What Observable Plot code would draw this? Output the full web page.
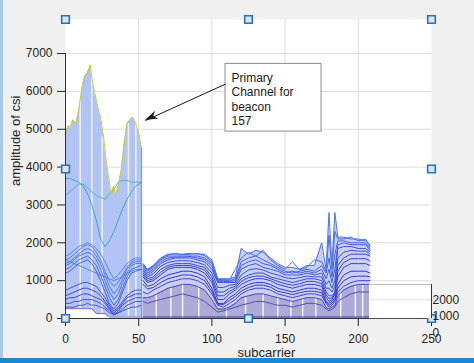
<!DOCTYPE html>
<html><head><meta charset="utf-8">
<script src="https://cdn.jsdelivr.net/npm/d3@7"></script>
<script src="https://cdn.jsdelivr.net/npm/@observablehq/plot@0.6"></script>
<style>
html,body{margin:0;padding:0;background:#f0f0f0;}
#wrap{position:relative;width:474px;height:363px;overflow:hidden;background:#f0f0f0;}
#wrap svg{position:absolute;left:0;top:0;}
#leftstrip{position:absolute;left:0;top:0;width:3px;height:363px;background:#a9c9e8;}
#bottombar{position:absolute;left:0;top:358px;width:474px;height:5px;background:#1f86cf;}
</style></head>
<body><div id="wrap"><div id="leftstrip"></div><div id="bottombar"></div></div>
<script>
// ---------- tick labels ----------
const subcarrierTicks = [0, 50, 100, 150, 200, 250];
const amplitudeTicks = [0, 1000, 2000, 3000, 4000, 5000, 6000, 7000];
const insetTicks = [0, 1000, 2000];

// ---------- primary channel (subcarriers 0-52) ----------
const primaryX = [0,2,3,5,7,9,11,13,15,16,17,18,20,22,24,26,28,30,31,33,34,36,38,40,42,44,46,48,50,52];
const primaryY = [4900,5100,5000,5250,5150,5500,6050,6400,6500,6600,6700,6350,5950,5600,5300,4800,4100,3600,3300,3500,3250,3500,3900,4600,5150,5250,5320,5150,4900,4500];

const seg1X = [0,3,6,9,12,15,18,21,24,27,30,33,36,39,42,45,48,52];
const seg1Floor = [260,260,260,260,260,260,260,130,130,130,40,40,40,40,40,40,40,40];
const teal1 = [3700,3700,3650,3600,3500,3300,3000,2600,2100,1900,2050,2300,2600,2900,3150,3350,3500,3600];
const teal2 = [3250,3350,3450,3550,3550,3450,3350,3250,3200,3150,3300,3400,3600,3650,3650,3600,3600,3600];
const blueA = [1650,1700,1800,1900,1950,2000,1950,1850,1700,1500,1250,1050,1150,1300,1450,1550,1600,1600];
const blueB = [1550,1600,1700,1800,1900,1950,1900,1750,1550,1250,1000,850,950,1150,1350,1500,1550,1550];
const blueC = [1450,1500,1600,1700,1800,1850,1800,1650,1450,1150,850,650,800,1050,1300,1450,1500,1500];
const blueD = [1400,1450,1550,1650,1700,1750,1700,1550,1300,1000,700,500,650,950,1200,1400,1450,1450];
const blueE = [1300,1350,1450,1550,1600,1650,1550,1400,1150,850,550,350,500,800,1100,1300,1350,1400];
const blueF = [1200,1250,1350,1450,1500,1550,1450,1250,1000,700,400,250,400,700,1000,1200,1250,1300];
const blueG = [1550,1500,1450,1400,1350,1300,1250,1200,1150,1100,1050,1000,1050,1100,1200,1250,1300,1300];
const lowA = [750,800,850,900,950,950,900,850,700,550,350,200,300,450,600,700,750,750];
const lowB = [600,650,700,750,800,800,750,700,600,450,300,150,250,400,550,600,650,650];
const lowC = [500,550,550,600,650,650,600,550,500,400,250,100,200,350,450,500,550,550];
const lowD = [400,400,450,450,500,500,500,450,400,300,200,100,150,250,350,400,450,450];
const lowE = [300,300,300,350,350,400,350,350,300,250,150,100,150,200,250,300,300,350];
const seg1StripeX = [10, 18, 25, 43, 48];
const seg1StripeTop = [6100, 6350, 4800, 5150, 5150];
const seg1StripeBase = [260, 260, 130, 40, 40];

// ---------- other channels (subcarriers 53-208) ----------
const seg2X = [53,56,60,65,70,75,80,85,90,95,100,104,108,112,116,120,125,130,135,140,145,150,155,160,165,170,175,178,180,182,184,186,190,195,200,205,208];
const upper1 = [1450,1300,1400,1600,1700,1700,1700,1720,1700,1700,1550,1050,1050,1050,1100,1850,1700,1800,1750,1600,1450,1350,1350,1300,1400,1400,2000,1300,2800,1400,2800,2150,2150,2100,2100,2050,1950];
const upper1b = [1420,1280,1380,1580,1680,1720,1680,1700,1720,1660,1500,1030,1030,1020,1300,1600,1750,1650,1800,1550,1400,1300,1500,1280,1350,1550,1500,1250,2200,1300,2300,2100,2100,2150,2050,2100,1900];
const upper2 = [1400,1250,1350,1550,1650,1650,1650,1650,1650,1600,1450,1000,1000,1000,1050,1500,1600,1650,1550,1450,1350,1250,1200,1250,1300,1250,1400,1200,1600,1100,1700,2050,2050,2000,2000,2000,1850];
const upper2b = [1350,1200,1300,1500,1600,1620,1620,1640,1600,1560,1380,980,980,980,1000,1400,1500,1550,1450,1400,1300,1200,1250,1200,1250,1200,1300,1050,1300,950,1300,1950,2000,1950,1950,1950,1800];
const upper3 = [1300,1150,1250,1450,1550,1600,1600,1600,1550,1500,1300,950,950,950,950,1300,1400,1450,1350,1300,1250,1150,1150,1150,1200,1150,1200,900,1000,800,1000,1850,1900,1900,1850,1850,1750];
const mid0 = [1250,1100,1180,1380,1480,1520,1530,1520,1480,1420,1200,820,820,880,900,1150,1280,1320,1280,1200,1150,1080,1050,1080,1120,1100,1100,800,800,700,850,1600,1750,1800,1780,1780,1700];
const mid1 = [1200,1050,1100,1300,1400,1450,1450,1450,1400,1350,1100,700,700,800,850,1050,1150,1200,1200,1100,1050,1000,950,1000,1050,1050,1000,700,600,600,700,1400,1600,1700,1700,1700,1650];
const mid1b = [1150,1000,1050,1220,1350,1400,1400,1400,1350,1280,1020,600,600,720,800,980,1080,1120,1120,1050,980,920,880,920,980,980,920,620,520,550,680,1250,1480,1580,1580,1580,1520];
const mid2 = [1100,950,1000,1150,1300,1350,1350,1350,1300,1200,950,500,500,650,750,900,1000,1050,1050,1000,900,850,800,850,900,900,850,550,450,500,650,1100,1350,1450,1450,1450,1400];
const mid3 = [1000,850,900,1050,1150,1200,1250,1250,1200,1100,800,400,400,550,650,800,900,950,950,900,800,750,700,750,800,800,750,450,400,450,550,900,1150,1250,1250,1250,1200];
const mid3b = [900,780,820,950,1050,1100,1150,1150,1100,1000,720,380,370,480,580,720,820,880,880,830,720,680,630,680,720,720,680,420,350,400,500,800,1000,1100,1120,1120,1100];
const low1 = [700,650,750,850,950,1000,1050,1050,1000,900,650,350,300,400,500,650,750,800,800,750,650,600,550,600,650,650,600,400,300,350,450,700,850,950,1000,1000,1000];
const low2 = [550,550,600,700,800,850,900,900,850,750,500,250,250,300,400,550,600,650,650,600,550,500,450,500,550,550,500,300,250,300,350,600,750,850,900,900,900];
const low3 = [450,400,450,500,550,600,650,600,550,450,300,170,200,250,300,350,400,450,450,400,350,350,300,350,400,400,350,250,200,250,300,450,550,650,700,700,700];
const floor2X = [53, 208];
const floor2Y = [40, 40];
const seg2StripeX = [62,72,80,91,110,123,135,145,154,162,171,188,198,203];
const seg2StripeTop = [650,820,900,850,280,580,650,550,460,520,550,680,880,900];

// ---------- annotation ----------
const noteText = "Primary\nChannel for\nbeacon\n157";
const noteBox = {x1: 109.3, x2: 174.9, y1: 4939, y2: 6727};
const notePos = {x: 113.4, y: 6520};
const noteArrow = {x1: 109.3, y1: 6194, x2: 54.6, y2: 5230};

// ---------- build tables ----------
const rows = (xs, ys) => xs.map((x, i) => ({x, y: ys[i]}));
const xDomain = [0, 250], yDomain = [0, 7900];
const font = "'Liberation Sans', Arial, Helvetica, sans-serif";
const plain = d => String(d);

const seg1Lines = [
  [lowE, "#4646c4"], [lowD, "#3f3fc8"], [lowC, "#3a3acc"], [lowB, "#3838d0"], [lowA, "#3a42d4"],
  [blueG, "#4a80ec"], [blueF, "#3f55e0"], [blueE, "#4260e4"], [blueD, "#4668e8"], [blueC, "#4a70ea"],
  [blueB, "#4d78ec"], [blueA, "#5080ee"], [seg1Floor, "#5a52c8"],
  [teal2, "#45b0c4"], [teal1, "#2fa0cc"]
];
const seg2Lines = [
  [low3, "#5050b8"], [low2, "#4a48c0"], [low1, "#4545c8"], [mid3b, "#3a38c8"], [mid3, "#3737cc"],
  [mid2, "#3840d4"], [mid1b, "#3944d8"], [mid1, "#3a49dc"], [mid0, "#3b4fe0"], [upper3, "#3d55e3"],
  [upper2b, "#405ce6"], [upper2, "#4462ea"], [upper1b, "#486aed"], [upper1, "#4d74f0"]
];

const handles = [];
const mid = (yDomain[0] + yDomain[1]) / 2;
for (const x of [0, 125, 250]) for (const y of [yDomain[0], mid, yDomain[1]]) {
  if (!(x === 125 && y === mid)) handles.push({x, y});
}

const chart = Plot.plot({
  width: 474, height: 363,
  marginLeft: 65, marginRight: 43, marginTop: 19, marginBottom: 45,
  x: {domain: xDomain},
  y: {domain: yDomain},
  style: {background: "transparent", fontFamily: font, fontSize: "12px", color: "#262626", overflow: "visible"},
  marks: [
    Plot.frame({fill: "white", stroke: "none"}),
    Plot.gridX({ticks: subcarrierTicks.slice(1, 5), stroke: "#dcdcdc", strokeOpacity: 1}),
    Plot.gridY({ticks: amplitudeTicks.slice(1), stroke: "#dcdcdc", strokeOpacity: 1}),
    // surface fills
    Plot.areaY(rows(primaryX, primaryY), {x: "x", y: "y", fill: "#b2c4f6"}),
    Plot.areaY(rows(seg1X, seg1Floor), {x: "x", y: "y", fill: "white"}),
    Plot.areaY(rows(seg2X, upper1), {x: "x", y: "y", fill: "#c9cff5"}),
    Plot.areaY(rows(seg2X, low2), {x: "x", y: "y", fill: "#aeaad8"}),
    Plot.ruleX(seg1StripeX.map((x, i) => ({x, y1: seg1StripeBase[i], y2: seg1StripeTop[i]})),
      {x: "x", y1: "y1", y2: "y2", stroke: "white", strokeWidth: 1.6, strokeOpacity: 0.75}),
    Plot.ruleX(seg2StripeX.map((x, i) => ({x, y2: seg2StripeTop[i]})),
      {x: "x", y1: 0, y2: "y2", stroke: "white", strokeWidth: 1.5, strokeOpacity: 0.85}),
    // lines
    Plot.line(rows(floor2X, floor2Y), {x: "x", y: "y", stroke: "#3c3c9c", strokeWidth: 1}),
    ...seg2Lines.map(([ys, c]) => Plot.line(rows(seg2X, ys), {x: "x", y: "y", stroke: c, strokeWidth: 1})),
    ...seg1Lines.map(([ys, c]) => Plot.line(rows(seg1X, ys), {x: "x", y: "y", stroke: c, strokeWidth: 0.9})),
    Plot.line(rows(primaryX, primaryY), {x: "x", y: "y", stroke: "#c6cc3c", strokeWidth: 1}),
    Plot.ruleX([primaryX[primaryX.length - 1]], {y1: 0, y2: primaryY[primaryY.length - 1], stroke: "#3fb0b8", strokeWidth: 1}),
    // axes
    Plot.ruleX([0], {y1: 0, y2: 7000, stroke: "#333"}),
    Plot.ruleY([0], {x1: 0, x2: 250, stroke: "#333"}),
    Plot.axisY({ticks: amplitudeTicks, tickFormat: plain, tickSize: 8, tickPadding: 5, label: null, fontSize: 12}),
    Plot.axisX({ticks: subcarrierTicks, tickFormat: plain, tickSize: 8, tickPadding: 8, label: null, fontSize: 12}),
    Plot.text(["amplitude of csi"], {frameAnchor: "left", y: 3500, dx: -50, rotate: -90, fontSize: 13, fill: "#262626"}),
    Plot.text(["subcarrier"], {frameAnchor: "bottom", x: 137.3, dy: 38, fontSize: 13, fill: "#262626"}),
    // annotation
    Plot.rect([noteBox], {x1: "x1", x2: "x2", y1: "y1", y2: "y2", fill: "white", stroke: "#8c8c8c"}),
    Plot.text([noteText], {x: notePos.x, y: notePos.y, text: d => d, textAnchor: "start", lineAnchor: "top", lineHeight: 1.2, fontSize: 12, fill: "#1a1a1a"}),
    Plot.link([noteArrow], {x1: "x1", y1: "y1", x2: "x2", y2: "y2", stroke: "#1a1a1a", strokeWidth: 1}),
    // selection handles
    Plot.dot(handles, {x: "x", y: "y", symbol: "square", r: 4.3, fill: "#d5e6f5", stroke: "#2c72b3", strokeWidth: 1.6})
  ]
});

// filled arrow head positioned with the chart's own scales
{
  const sx = chart.scale("x"), sy = chart.scale("y");
  const tx = sx.apply(noteArrow.x2), ty = sy.apply(noteArrow.y2);
  const bx = sx.apply(noteArrow.x1), by = sy.apply(noteArrow.y1);
  const len = Math.hypot(bx - tx, by - ty);
  const ux = (bx - tx) / len, uy = (by - ty) / len, nx = -uy, ny = ux;
  const L = 13, W = 4.2, N = 9;
  const pts = [[tx, ty], [tx + ux * L + nx * W, ty + uy * L + ny * W], [tx + ux * N, ty + uy * N], [tx + ux * L - nx * W, ty + uy * L - ny * W]];
  d3.select(chart).append("polygon").attr("points", pts.map(p => p.join(",")).join(" ")).attr("fill", "#1a1a1a");
}

document.getElementById("wrap").appendChild(chart);

// small overlapping axes at lower right
const insetBox = {bottom: 880, top: 2900};
const inset = Plot.plot({
  width: 105, height: 80, marginLeft: 0, marginRight: 43, marginTop: 14, marginBottom: 17,
  x: {domain: [0, 1], axis: null},
  y: {domain: [0, 2900], axis: null},
  style: {background: "transparent", fontFamily: font, fontSize: "12px", color: "#262626", overflow: "visible"},
  marks: [
    Plot.rect([insetBox], {x1: 0, x2: 1, y1: "bottom", y2: "top", fill: "white"}),
    Plot.ruleY([insetBox.top], {x1: 0, x2: 1, stroke: "#c4c4c4"}),
    Plot.ruleY([2000], {x1: 0, x2: 1, stroke: "#e0e0e0"}),
    Plot.ruleX([1], {y1: insetBox.bottom, y2: insetBox.top, stroke: "#333"}),
    Plot.axisY({anchor: "right", ticks: insetTicks, tickFormat: plain, tickSize: 0, tickPadding: 1, label: null, fontSize: 12})
  ]
});
inset.style.left = "369px";
inset.style.top = "270px";
document.getElementById("wrap").appendChild(inset);
</script>
</body></html>
